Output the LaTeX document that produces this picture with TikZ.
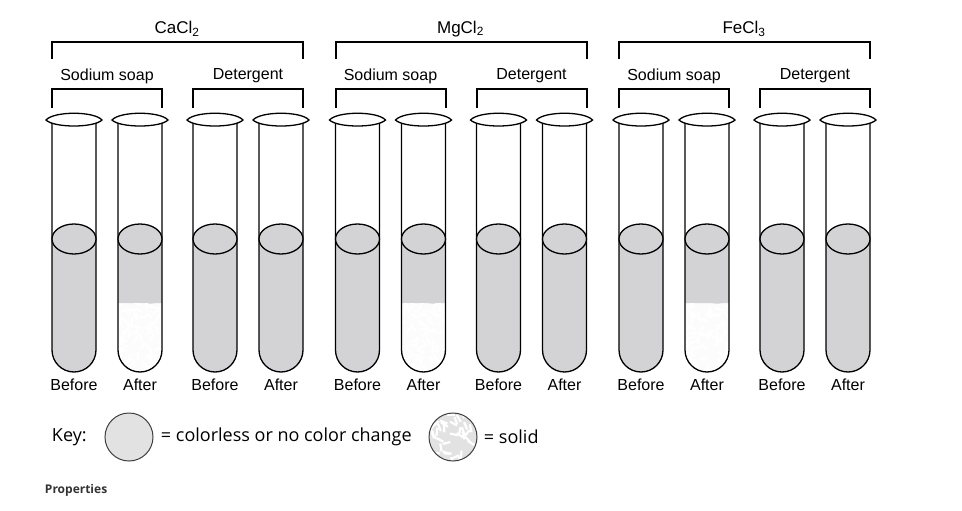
\documentclass[tikz,border=0pt]{standalone}
\usepackage{fontspec}
\setmainfont{Open Sans}
\newfontfamily\lab{Liberation Sans}
\definecolor{liq}{RGB}{211,211,213}
\definecolor{keyg}{RGB}{226,226,226}
\begin{document}
\begin{tikzpicture}[x=1pt,y=-1pt,line width=1.3pt,
  lbl/.style={font=\lab\fontsize{16}{17}\selectfont,inner sep=0pt}]
\useasboundingbox (0,0) rectangle (962,511);
\pgfmathsetseed{7}
\newcommand{\tube}[2]{%
  \begin{scope}[shift={(#1,0)}]
  \fill[liq] (-22,239) -- (-22,350) arc[start angle=180,end angle=0,radius=22] -- (22,239) -- cycle;
  \ifnum#2=1
    \begin{scope}
    \clip (-22,303) -- (-22,350) arc[start angle=180,end angle=0,radius=22] -- (22,303) -- cycle;
    \fill[white!93!liq] (-22,300) rectangle (22,375);
    \fill[liq] (-22,300) .. controls (-10,296) and (10,310) .. (22,300) -- (22,303) -- (-22,303);
    \foreach \i in {1,...,70}{%
      \pgfmathsetmacro\xx{rnd*44-22}\pgfmathsetmacro\yy{rnd*72+302}\pgfmathsetmacro\aa{rnd*180}
      \fill[white,rotate around={\aa:(\xx,\yy)}] (\xx-4,\yy-1.1) rectangle (\xx+4,\yy+1.1);}
    \end{scope}
  \fi
  \draw (-22,120) -- (-22,350) arc[start angle=180,end angle=0,radius=22] -- (22,120);
  \draw[fill=liq] (0,239) ellipse[x radius=22,y radius=15];
  \draw[fill=white] (-28,120) .. controls (-20,111) and (20,111) .. (28,120) .. controls (20,128) and (-20,128) .. (-28,120) -- cycle;
  \end{scope}}
\foreach \g/\name in {0/{CaCl\textsubscript{2}},1/{MgCl\textsubscript{2}},2/{FeCl\textsubscript{3}}}{
  \pgfmathsetmacro\ox{74+283.5*\g}
  \tube{\ox}{0}\tube{\ox+66}{1}\tube{\ox+141}{0}\tube{\ox+207}{0}
  \node[lbl] at (\ox,385) {Before};
  \node[lbl] at (\ox+66,385) {After};
  \node[lbl] at (\ox+141,385) {Before};
  \node[lbl] at (\ox+207,385) {After};
  \draw[line width=2pt] (\ox-22,108) -- (\ox-22,89) -- (\ox+88,89) -- (\ox+88,108);
  \draw[line width=2pt] (\ox+119,108) -- (\ox+119,89) -- (\ox+229,89) -- (\ox+229,108);
  \draw[line width=2pt] (\ox-22,59) -- (\ox-22,42) -- (\ox+229,42) -- (\ox+229,59);
  \node[lbl] at (\ox+33,76) {Sodium soap};
  \node[lbl] at (\ox+174,76) {Detergent};
  \node[lbl,font=\lab\fontsize{17}{18}\selectfont] at (\ox+103,29) {\name};
}
% key
\node[anchor=west,font=\fontsize{18}{19}\selectfont] (k) at (48,437) {Key:};
\draw[line width=1pt,draw=black!75,fill=keyg] (129,437) circle[radius=24];
\node[anchor=west,font=\fontsize{18}{19}\selectfont] (k1) at (157,437) {= colorless or no color change};
\begin{scope}
\clip (453,437) circle[radius=24];
\fill[keyg] (453,437) circle[radius=24];
\foreach \i in {1,...,40}{%
  \pgfmathsetmacro\xx{rnd*48+429}\pgfmathsetmacro\yy{rnd*48+413}\pgfmathsetmacro\aa{rnd*180}
  \fill[white,rotate around={\aa:(\xx,\yy)}] (\xx-4,\yy-1.1) rectangle (\xx+4,\yy+1.1);}
\end{scope}
\draw[line width=1pt,draw=black!75] (453,437) circle[radius=24];
\node[anchor=west,font=\fontsize{18}{19}\selectfont] (k2) at (480,437) {= solid};
\node[anchor=west,font=\bfseries\fontsize{12}{13}\selectfont,text=black!80] (p) at (41,490) {Properties};
\end{tikzpicture}
\end{document}
